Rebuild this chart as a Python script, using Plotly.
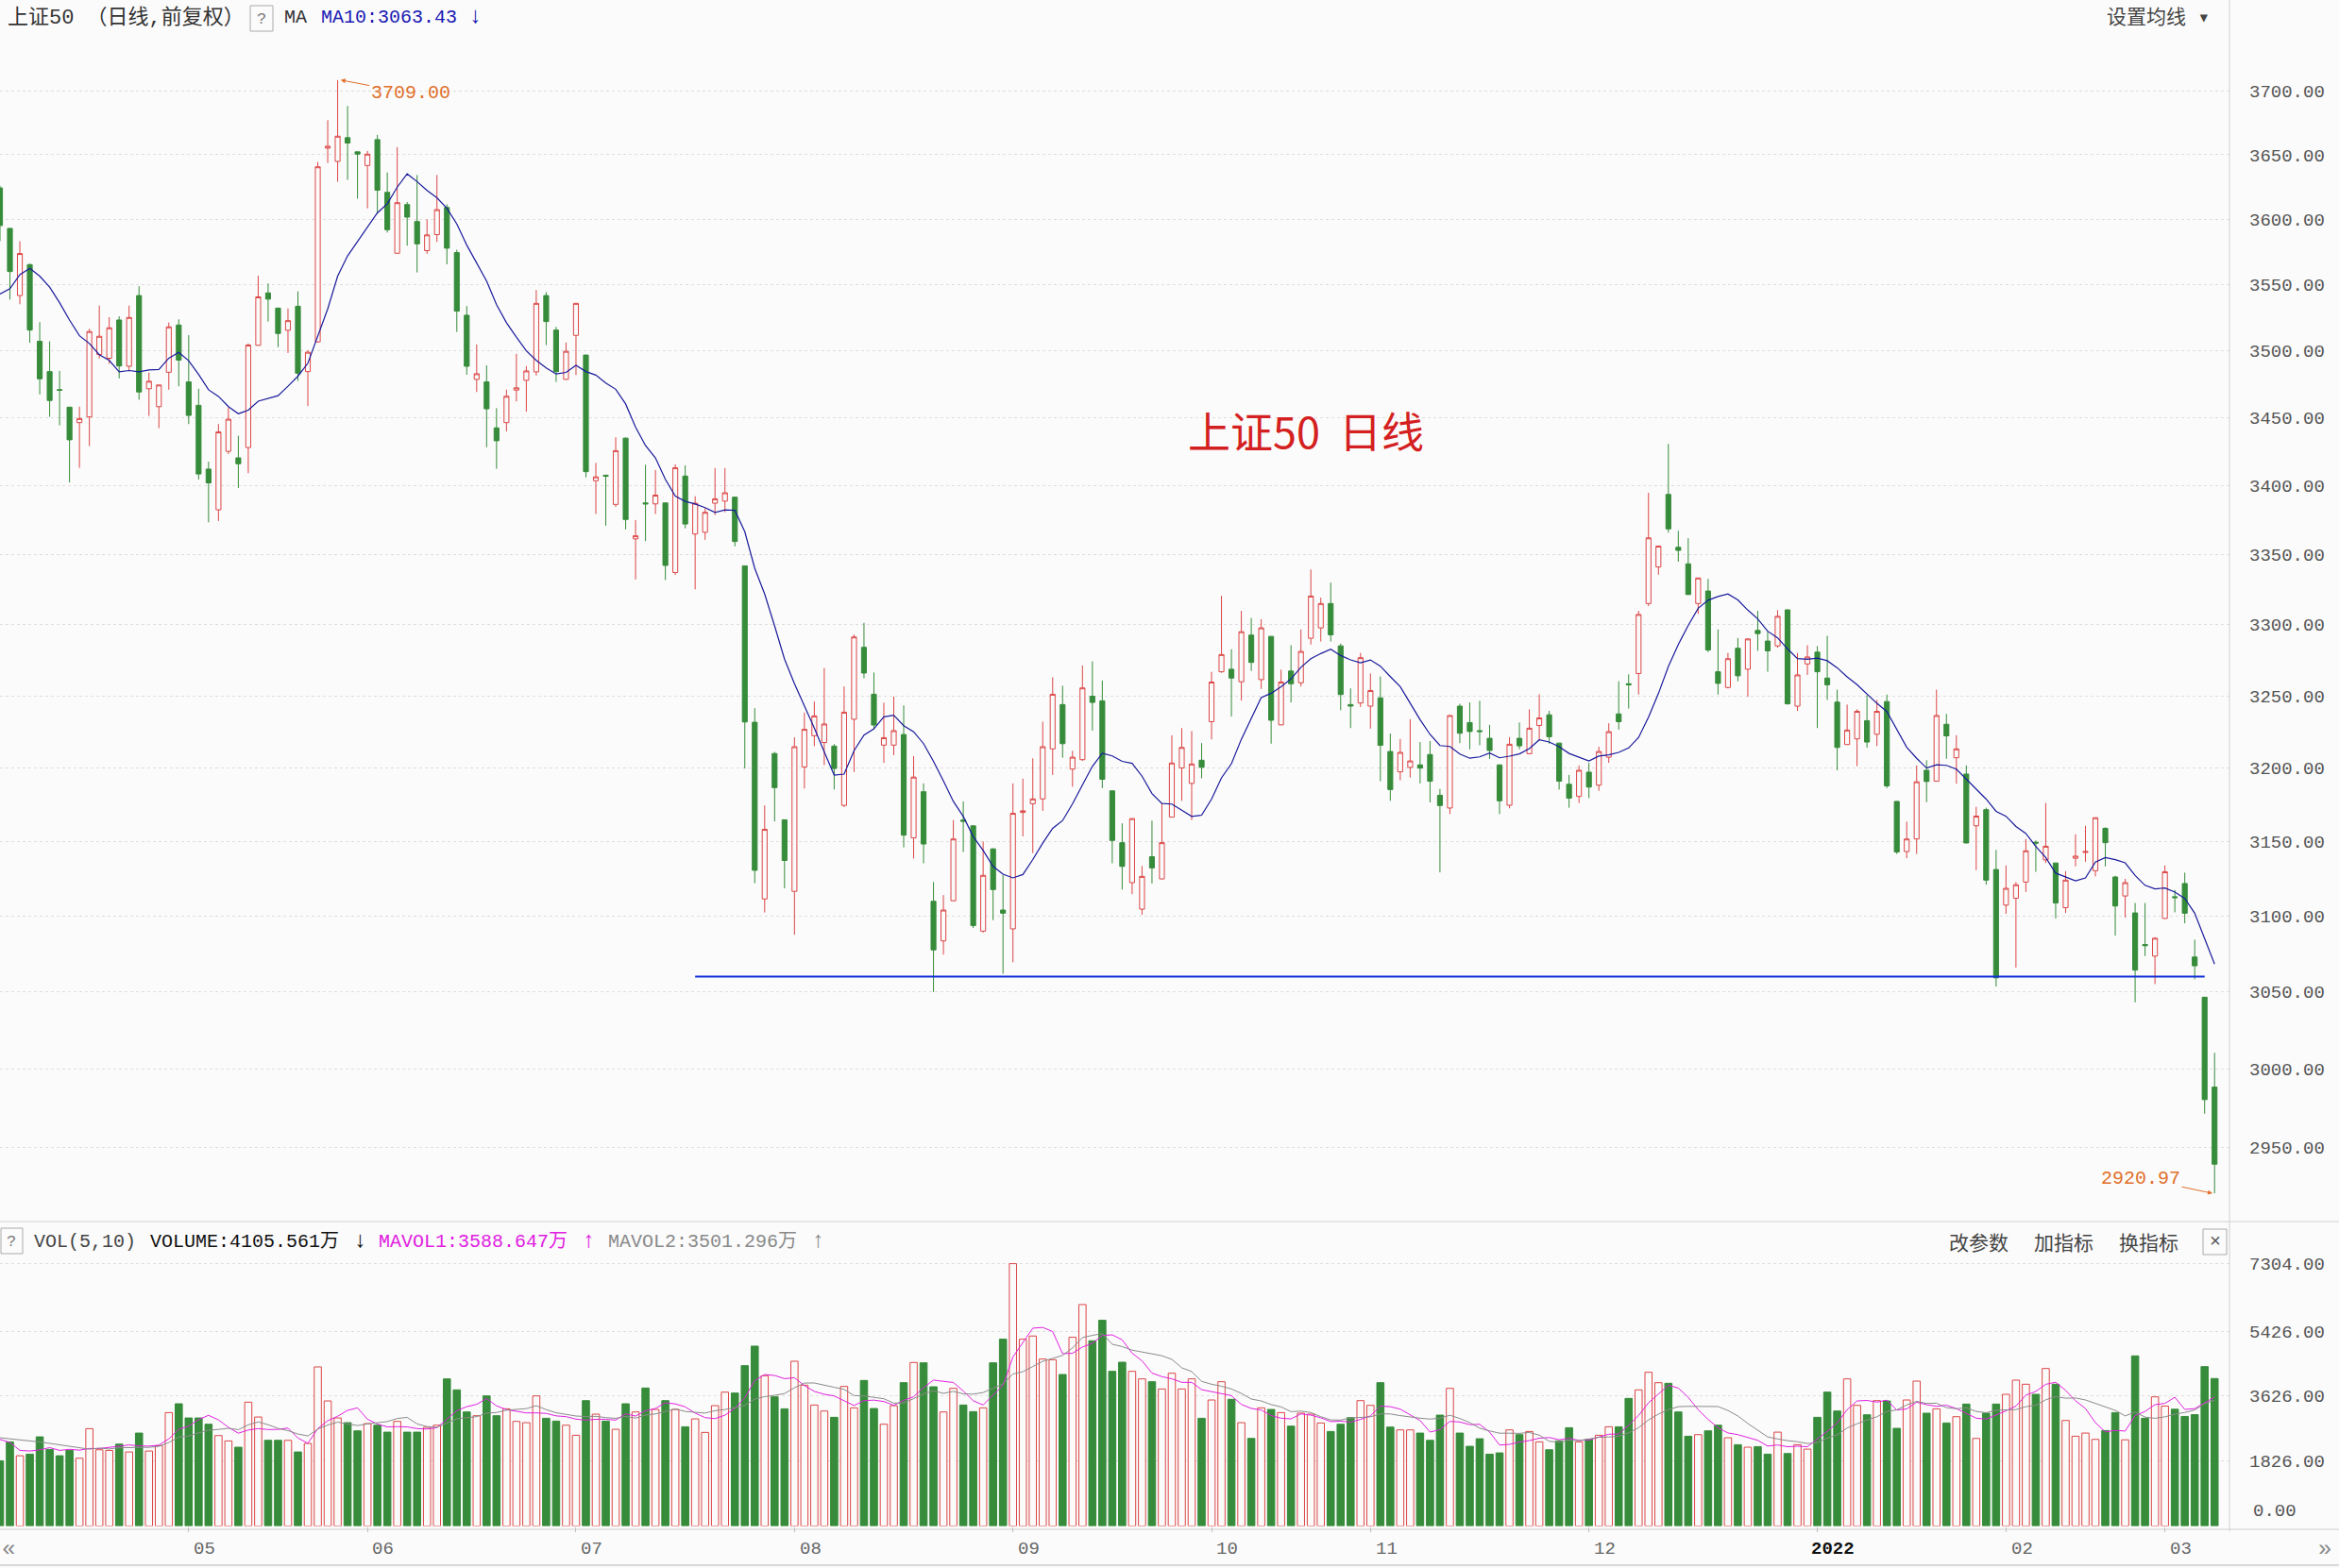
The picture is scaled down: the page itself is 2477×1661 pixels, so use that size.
import math
import pandas as pd
import plotly.graph_objects as go

# ---------------- data ----------------
opens = [
    3624.1, 3592.8, 3541.4, 3565.0, 3506.8, 3484.1, 3470.6, 3457.6, 3446.2, 3450.4,
    3496.9, 3494.1, 3522.9, 3488.1, 3541.4, 3471.3, 3458.0, 3483.6, 3519.1, 3476.4,
    3459.0, 3412.0, 3382.3, 3425.0, 3420.2, 3427.8, 3503.8, 3543.4, 3531.9, 3515.1,
    3533.3, 3484.1, 3506.4, 3655.2, 3644.8, 3663.4, 3652.3, 3641.6, 3661.9, 3620.7,
    3573.7, 3611.2, 3598.1, 3575.7, 3588.0, 3609.0, 3574.2, 3526.5, 3478.3, 3476.4,
    3442.3, 3446.2, 3470.3, 3477.6, 3483.9, 3541.4, 3515.3, 3478.3, 3511.3, 3496.5,
    3403.5, 3407.5, 3386.2, 3434.7, 3361.3, 3387.3, 3386.6, 3387.3, 3337.1, 3406.9,
    3364.8, 3366.0, 3387.1, 3388.6, 3391.5, 3341.9, 3231.6, 3111.4, 3210.0, 3164.7,
    3116.5, 3200.8, 3222.3, 3217.6, 3215.1, 3174.5, 3233.7, 3284.0, 3251.1, 3215.8,
    3215.8, 3223.1, 3152.4, 3183.8, 3109.8, 3083.5, 3110.2, 3164.5, 3160.6, 3090.0,
    3145.0, 3104.0, 3091.5, 3169.7, 3175.6, 3178.9, 3213.2, 3243.9, 3199.3, 3205.8,
    3249.7, 3246.5, 3184.4, 3149.2, 3122.3, 3104.6, 3139.7, 3124.8, 3166.5, 3200.1,
    3189.5, 3205.4, 3232.0, 3266.8, 3268.6, 3259.8, 3292.6, 3261.3, 3291.7, 3229.8,
    3267.3, 3259.1, 3290.4, 3297.7, 3315.0, 3285.0, 3243.9, 3245.0, 3242.8, 3248.6,
    3211.4, 3197.4, 3200.5, 3202.2, 3209.3, 3181.4, 3172.7, 3242.8, 3231.4, 3225.8,
    3220.5, 3202.2, 3174.6, 3220.5, 3209.9, 3229.4, 3236.8, 3217.2, 3188.9, 3180.6,
    3197.2, 3188.3, 3207.5, 3237.4, 3258.4, 3265.6, 3315.0, 3341.1, 3393.5, 3355.2,
    3343.3, 3315.0, 3323.9, 3266.8, 3255.8, 3283.3, 3268.6, 3295.9, 3288.4, 3285.0,
    3310.5, 3242.8, 3272.3, 3280.6, 3262.4, 3245.6, 3216.2, 3220.1, 3232.7, 3223.3,
    3246.0, 3177.2, 3143.2, 3151.7, 3198.5, 3191.0, 3230.2, 3207.1, 3195.9, 3160.6,
    3171.6, 3131.1, 3107.3, 3111.9, 3122.7, 3149.5, 3137.6, 3135.5, 3105.6, 3138.7,
    3142.6, 3130.3, 3158.9, 3126.1, 3113.4, 3102.1, 3081.1, 3073.5, 3098.4, 3112.9,
    3121.7, 3072.9, 3046.5, 2988.3,
]
highs = [
    3625.8, 3593.0, 3582.9, 3565.7, 3521.3, 3506.8, 3484.6, 3457.8, 3458.0, 3516.3,
    3533.8, 3525.0, 3525.7, 3533.8, 3548.5, 3483.4, 3474.3, 3521.0, 3523.4, 3511.5,
    3471.3, 3417.4, 3445.1, 3457.4, 3436.5, 3505.2, 3556.5, 3550.6, 3532.1, 3531.6,
    3544.6, 3500.2, 3644.3, 3677.2, 3709.0, 3688.4, 3652.4, 3653.0, 3665.6, 3636.2,
    3656.0, 3613.2, 3634.2, 3599.8, 3634.2, 3611.4, 3576.4, 3533.5, 3504.5, 3488.8,
    3456.9, 3470.6, 3497.4, 3488.3, 3545.6, 3544.0, 3517.7, 3505.9, 3535.7, 3496.7,
    3416.5, 3407.9, 3435.3, 3435.3, 3374.9, 3415.2, 3411.3, 3387.5, 3415.5, 3414.7,
    3392.2, 3383.4, 3412.7, 3412.7, 3391.7, 3342.0, 3241.4, 3174.5, 3211.1, 3164.9,
    3221.2, 3238.3, 3246.0, 3269.4, 3216.5, 3256.5, 3293.0, 3301.3, 3266.3, 3245.2,
    3249.5, 3243.3, 3208.2, 3189.5, 3122.7, 3114.0, 3164.5, 3177.2, 3160.8, 3150.0,
    3145.4, 3127.5, 3189.5, 3192.7, 3206.7, 3232.0, 3263.0, 3257.0, 3211.9, 3271.2,
    3274.1, 3260.7, 3184.6, 3162.3, 3165.7, 3133.5, 3164.1, 3176.1, 3222.6, 3227.6,
    3225.5, 3217.2, 3266.8, 3320.5, 3282.6, 3309.8, 3304.7, 3303.9, 3291.9, 3268.3,
    3285.5, 3296.6, 3339.3, 3319.2, 3329.9, 3286.6, 3255.2, 3280.0, 3265.6, 3263.5,
    3223.8, 3220.1, 3233.7, 3217.9, 3218.6, 3185.7, 3236.5, 3244.5, 3245.4, 3246.5,
    3229.8, 3202.4, 3221.2, 3231.4, 3240.6, 3251.1, 3239.5, 3217.4, 3195.3, 3201.8,
    3203.7, 3214.7, 3230.9, 3260.2, 3265.0, 3309.8, 3394.7, 3356.3, 3430.5, 3367.1,
    3361.8, 3333.4, 3332.6, 3296.6, 3280.0, 3290.6, 3290.1, 3309.8, 3295.0, 3310.3,
    3310.7, 3280.0, 3285.5, 3284.8, 3292.1, 3254.3, 3243.9, 3240.6, 3250.4, 3247.1,
    3250.9, 3177.4, 3163.4, 3201.8, 3205.4, 3254.3, 3237.4, 3222.6, 3201.8, 3173.5,
    3172.9, 3144.3, 3133.8, 3122.7, 3151.7, 3150.7, 3176.1, 3135.7, 3130.0, 3154.9,
    3160.6, 3166.3, 3159.6, 3126.9, 3124.8, 3108.7, 3108.7, 3086.0, 3133.8, 3117.4,
    3129.0, 3084.3, 3046.7, 3010.4,
]
lows = [
    3582.9, 3538.3, 3534.8, 3505.7, 3467.1, 3450.4, 3444.2, 3402.2, 3412.9, 3428.9,
    3493.9, 3489.9, 3479.0, 3485.3, 3463.1, 3451.1, 3442.1, 3470.6, 3473.1, 3445.1,
    3404.4, 3373.2, 3374.2, 3423.1, 3398.1, 3409.0, 3503.5, 3521.7, 3502.4, 3498.1,
    3477.1, 3458.4, 3505.9, 3643.6, 3628.9, 3630.4, 3615.8, 3608.3, 3604.1, 3589.6,
    3573.5, 3579.5, 3559.0, 3573.3, 3582.4, 3565.2, 3513.9, 3481.8, 3468.9, 3428.0,
    3412.2, 3439.7, 3461.9, 3454.3, 3481.1, 3504.0, 3476.4, 3478.1, 3481.5, 3406.0,
    3379.3, 3370.8, 3384.4, 3368.1, 3332.1, 3359.7, 3379.3, 3331.7, 3335.4, 3368.9,
    3325.1, 3360.6, 3378.5, 3380.5, 3355.9, 3199.7, 3121.9, 3102.4, 3163.6, 3118.5,
    3087.6, 3186.0, 3215.1, 3202.0, 3185.3, 3173.3, 3197.3, 3262.3, 3226.7, 3203.6,
    3208.9, 3146.0, 3138.5, 3135.3, 3049.9, 3074.5, 3110.0, 3142.9, 3092.1, 3089.0,
    3097.3, 3061.9, 3069.4, 3153.5, 3142.2, 3170.8, 3195.3, 3207.1, 3187.2, 3204.9,
    3225.9, 3186.2, 3135.3, 3117.7, 3114.6, 3100.9, 3121.7, 3124.6, 3166.3, 3177.6,
    3164.5, 3193.0, 3219.7, 3266.1, 3235.6, 3246.7, 3267.4, 3254.8, 3216.8, 3229.6,
    3245.4, 3256.5, 3285.9, 3288.1, 3288.1, 3240.0, 3227.6, 3242.2, 3227.2, 3191.0,
    3177.6, 3191.6, 3193.5, 3189.5, 3176.5, 3129.2, 3168.6, 3217.2, 3212.9, 3215.7,
    3206.4, 3168.6, 3172.5, 3212.9, 3209.7, 3219.0, 3216.8, 3185.3, 3172.9, 3176.1,
    3179.4, 3184.4, 3203.6, 3226.5, 3241.1, 3250.9, 3313.2, 3335.5, 3365.8, 3344.9,
    3321.2, 3307.7, 3280.6, 3250.9, 3255.2, 3260.2, 3249.3, 3281.5, 3266.8, 3283.7,
    3243.9, 3239.5, 3264.6, 3227.6, 3247.1, 3198.5, 3216.0, 3201.3, 3214.0, 3215.1,
    3186.3, 3141.6, 3138.7, 3141.6, 3176.7, 3190.8, 3206.4, 3189.3, 3148.8, 3130.7,
    3120.9, 3053.5, 3101.5, 3065.9, 3116.1, 3129.6, 3135.5, 3098.4, 3102.1, 3133.2,
    3136.3, 3126.5, 3133.2, 3087.0, 3099.0, 3043.2, 3073.5, 3055.1, 3098.2, 3102.5,
    3095.2, 3058.2, 2971.3, 2920.97,
]
closes = [
    3595.0, 3559.7, 3573.5, 3515.3, 3478.7, 3462.6, 3470.2, 3433.5, 3449.2, 3514.2,
    3510.6, 3517.0, 3488.3, 3524.8, 3468.9, 3476.9, 3474.1, 3517.7, 3492.7, 3451.5,
    3408.4, 3401.9, 3439.3, 3448.7, 3415.9, 3504.0, 3540.4, 3538.7, 3512.7, 3522.4,
    3482.9, 3498.6, 3640.6, 3656.7, 3664.6, 3659.2, 3650.5, 3650.5, 3622.4, 3591.8,
    3612.7, 3601.5, 3580.9, 3587.8, 3607.3, 3577.6, 3529.6, 3488.1, 3482.5, 3456.4,
    3432.8, 3465.7, 3472.0, 3484.6, 3535.5, 3521.7, 3484.1, 3499.3, 3535.5, 3410.1,
    3406.3, 3406.8, 3425.5, 3375.3, 3363.5, 3386.6, 3393.0, 3342.2, 3413.0, 3372.0,
    3387.1, 3380.5, 3390.3, 3394.7, 3359.4, 3231.8, 3130.6, 3158.2, 3186.6, 3137.2,
    3214.7, 3226.7, 3236.0, 3230.4, 3199.7, 3238.6, 3291.3, 3265.9, 3229.7, 3220.9,
    3225.8, 3154.3, 3193.8, 3148.3, 3077.6, 3104.0, 3151.7, 3163.6, 3093.7, 3127.2,
    3117.7, 3101.9, 3169.1, 3170.8, 3178.9, 3214.7, 3251.1, 3216.8, 3207.5, 3255.5,
    3245.4, 3192.3, 3150.7, 3133.2, 3165.5, 3126.5, 3132.2, 3149.2, 3203.5, 3214.2,
    3202.8, 3200.5, 3259.6, 3278.9, 3262.4, 3295.0, 3273.4, 3297.7, 3233.0, 3259.6,
    3258.4, 3281.1, 3320.3, 3315.0, 3292.8, 3250.9, 3242.8, 3276.7, 3253.7, 3215.7,
    3185.3, 3210.8, 3204.9, 3200.0, 3191.0, 3174.4, 3236.3, 3224.0, 3225.2, 3225.2,
    3212.1, 3177.6, 3216.4, 3215.3, 3227.5, 3234.6, 3221.6, 3191.0, 3179.4, 3198.5,
    3187.0, 3211.4, 3225.1, 3232.0, 3257.7, 3307.2, 3362.0, 3356.1, 3368.5, 3353.0,
    3321.4, 3333.2, 3282.1, 3258.7, 3276.0, 3264.0, 3289.9, 3293.7, 3281.5, 3305.9,
    3244.4, 3264.6, 3277.2, 3266.8, 3257.7, 3214.2, 3226.2, 3239.2, 3217.9, 3239.2,
    3187.8, 3142.9, 3151.7, 3190.6, 3190.8, 3236.3, 3222.2, 3213.2, 3149.0, 3167.2,
    3124.0, 3059.2, 3118.5, 3120.9, 3143.7, 3148.9, 3146.8, 3108.7, 3124.0, 3140.1,
    3143.2, 3166.1, 3149.2, 3106.7, 3122.3, 3064.3, 3080.4, 3085.3, 3129.6, 3112.3,
    3101.9, 3067.1, 2980.3, 2939.3,
]
volumes = [  # 万
    1815, 2342, 1956, 2000, 2482, 2131, 1956, 2105, 1886, 2710,
    2122, 2105, 2280, 2061, 2587, 2087, 2236, 3157, 3403, 3008,
    3008, 2833, 2517, 2368, 2193, 3447, 3034, 2385, 2385, 2385,
    2061, 2298, 4429, 3482, 3008, 2877, 2649, 2850, 2806, 2613,
    2912, 2613, 2613, 2745, 2806, 4096, 3789, 3175, 3070, 3622,
    3070, 3262, 2912, 2877, 3622, 2999, 2920, 2806, 2526, 3490,
    3113, 2920, 2692, 3403, 3175, 3841, 3245, 3490, 3245, 2762,
    2982, 2605, 3350, 3727, 3701, 4464, 5008, 4183, 3596, 3262,
    4587, 3920, 3368, 3201, 3026, 3885, 3289, 4052, 3271, 2833,
    3350, 3990, 4552, 4543, 3876, 3175, 3832, 3368, 3184, 3289,
    4543, 5201, 7304, 5201, 5289, 4648, 4630, 4218, 5254, 6165,
    5157, 5727, 4306, 4560, 4306, 4096, 4017, 3815, 4253, 3815,
    4096, 2999, 3508, 4017, 3526, 2877, 2438, 3289, 3245, 3157,
    2780, 3140, 3113, 2868, 2631, 2833, 3017, 3490, 3359, 3990,
    2754, 2675, 2675, 2587, 2385, 3087, 3832, 2587, 2219, 2429,
    2000, 2035, 2675, 2543, 2631, 2342, 2122, 2368, 2736, 2342,
    2412, 2526, 2762, 2762, 3552, 3789, 4280, 3990, 3973, 3175,
    2499, 2543, 2649, 2806, 2456, 2263, 2193, 2210, 2000, 2613,
    2017, 2263, 2140, 3026, 3727, 3201, 4096, 3359, 3096, 3490,
    3482, 2719, 3508, 4034, 3140, 3262, 2868, 3043, 3394, 2438,
    3140, 3394, 3666, 4061, 3947, 3666, 4385, 3947, 2938, 2499,
    2587, 2412, 2657, 3157, 2400, 4736, 3000, 3596, 3338, 3250,
    3050, 3100, 4437, 4105.561,
]
# moving-average values before a full window exists
ma10_head = [3542.6, 3546.6, 3557.3, 3562.1, 3556.2, 3547.8, 3536.0, 3522.9, 3511.0]
mavol1_head = [2412, 2324, 2105, 2087]
mavol2_head = [2456, 2430, 2400, 2370, 2340, 2300, 2260, 2220, 2180]

month_tick_idx = [19, 37, 58, 80, 102, 122, 138, 160, 183, 202, 218]
month_labels = ["05", "06", "07", "08", "09", "10", "11", "12", "2022", "02", "03"]
price_ticks = [2950, 3000, 3050, 3100, 3150, 3200, 3250, 3300, 3350, 3400,
               3450, 3500, 3550, 3600, 3650, 3700]
vol_ticks = [1826, 3626, 5426, 7304]
support_level = 3060
support_start_idx = 70
support_end_idx = 222
ma10_last = 3063.43
mavol1_last = 3588.647
mavol2_last = 3501.296

# ---------------- styling ----------------
W, H = 2477, 1661
BG = "#fbfbfb"
RED = "#dc4646"
GREEN = "#368c3a"
NAVY = "#1a1a9c"
ORANGE = "#e0702a"
MAGENTA = "#e020e0"
GREY = "#8a8a8a"
TXT = "#444444"
MONO = "Liberation Mono, Noto Sans CJK SC, monospace"
CJK = "Noto Sans CJK SC, sans-serif"


def px(x):
    return x / W


def py(y):
    return 1 - y / H


n = len(closes)
idx = list(range(n))
ma10 = pd.Series(closes).rolling(10).mean().tolist()
ma10[:len(ma10_head)] = ma10_head
mavol1 = pd.Series(volumes).rolling(5).mean().tolist()
mavol1[:len(mavol1_head)] = mavol1_head
mavol2 = pd.Series(volumes).rolling(10).mean().tolist()
mavol2[:len(mavol2_head)] = mavol2_head
up = [c >= o for o, c in zip(opens, closes)]

fig = go.Figure()

fig.add_trace(go.Candlestick(
    x=idx, open=opens, high=highs, low=lows, close=closes,
    increasing=dict(line=dict(color=RED, width=1), fillcolor=BG),
    decreasing=dict(line=dict(color=GREEN, width=1), fillcolor=GREEN),
    whiskerwidth=0, xaxis="x", yaxis="y", hoverinfo="skip",
))
fig.add_trace(go.Scatter(x=idx, y=ma10, mode="lines",
                         line=dict(color=NAVY, width=1.2), xaxis="x", yaxis="y",
                         hoverinfo="skip"))
fig.add_trace(go.Scatter(x=[support_start_idx, support_end_idx],
                         y=[support_level, support_level], mode="lines",
                         line=dict(color="#1030d8", width=2.2), xaxis="x", yaxis="y",
                         hoverinfo="skip"))

fig.add_trace(go.Bar(
    x=idx, y=volumes, width=0.72,
    marker=dict(color=[BG if u else GREEN for u in up],
                line=dict(color=[RED if u else GREEN for u in up], width=1)),
    xaxis="x2", yaxis="y2", hoverinfo="skip",
))
fig.add_trace(go.Scatter(x=idx, y=mavol1, mode="lines",
                         line=dict(color=MAGENTA, width=1), xaxis="x2", yaxis="y2",
                         hoverinfo="skip"))
fig.add_trace(go.Scatter(x=idx, y=mavol2, mode="lines",
                         line=dict(color=GREY, width=1), xaxis="x2", yaxis="y2",
                         hoverinfo="skip"))

# price axis mapping: top of pane at 28px, bottom at 1290px
p_top = 3751.9
p_bot = 2905.7
xr = [0, 224.5]

fig.update_layout(
    width=W, height=H, margin=dict(l=0, r=0, t=0, b=0),
    paper_bgcolor=BG, plot_bgcolor=BG, showlegend=False,
    hovermode=False, boxgap=0.3, bargap=0.3,
    xaxis=dict(domain=[0, px(2361)], range=xr, anchor="y", showticklabels=False,
               showgrid=False, zeroline=False, showline=False,
               rangeslider=dict(visible=False)),
    yaxis=dict(domain=[py(1290), py(28)], type="log",
               range=[math.log10(p_bot), math.log10(p_top)],
               side="right", anchor="x", tickvals=price_ticks,
               ticktext=[f"{v:.2f}" for v in price_ticks],
               tickfont=dict(family=MONO, size=19, color="#555555"),
               showgrid=True, gridcolor="#dedede", griddash="dot", gridwidth=1,
               zeroline=False, showline=False, ticks="", ticklabelstandoff=20),
    xaxis2=dict(domain=[0, px(2361)], range=xr, anchor="y2", matches="x",
                showticklabels=False, showgrid=False, zeroline=False,
                showline=False, ticks="outside", ticklen=5, tickcolor="#bbbbbb",
                tickvals=month_tick_idx),
    yaxis2=dict(domain=[py(1616.5), py(1300)], range=[0, 8318.5], side="right",
                anchor="x2", tickvals=vol_ticks,
                ticktext=[f"{v:.2f}" for v in vol_ticks],
                tickfont=dict(family=MONO, size=19, color="#555555"),
                showgrid=True, gridcolor="#dedede", griddash="dot",
                zeroline=False, showline=False, ticks="", ticklabelstandoff=20),
)

shapes = [
    dict(type="line", xref="paper", yref="paper", x0=px(2361), x1=px(2361),
         y0=py(0), y1=py(1622), line=dict(color="#d0d0d0", width=1)),
    dict(type="line", xref="paper", yref="paper", x0=0, x1=1,
         y0=py(1294), y1=py(1294), line=dict(color="#d0d0d0", width=1)),
    dict(type="line", xref="paper", yref="paper", x0=0, x1=1,
         y0=py(1620), y1=py(1620), line=dict(color="#d0d0d0", width=1)),
    dict(type="line", xref="paper", yref="paper", x0=0, x1=1,
         y0=py(1658), y1=py(1658), line=dict(color="#d8d8d8", width=2)),
    # "?" boxes and close box
    dict(type="rect", xref="paper", yref="paper", x0=px(265), x1=px(289),
         y0=py(33), y1=py(6), line=dict(color="#aaaaaa", width=1), fillcolor=BG),
    dict(type="rect", xref="paper", yref="paper", x0=px(1), x1=px(24),
         y0=py(1328), y1=py(1301), line=dict(color="#aaaaaa", width=1), fillcolor=BG),
    dict(type="rect", xref="paper", yref="paper", x0=px(2333), x1=px(2358),
         y0=py(1329), y1=py(1302), line=dict(color="#aaaaaa", width=1), fillcolor=BG),
]

ann = []


def label(x, y, text, color=TXT, size=20, family=MONO, anchor="left"):
    ann.append(dict(xref="paper", yref="paper", x=px(x), y=py(y), text=text,
                    showarrow=False, xanchor=anchor, yanchor="middle",
                    font=dict(family=family, size=size, color=color)))


# price pane header
label(6, 19, "上证50 （日线,前复权）", color="#333333", size=22)
label(277, 20, "?", color="#777777", size=17, anchor="center")
label(299, 19, "MA", color="#333333")
label(338, 19, f"MA10:{ma10_last:.2f}", color="#1a1ab4")
label(494, 18, "↓", color="#1a1ab4", size=24)
label(2342, 19, "设置均线 ▾", color="#444444", anchor="right", size=21)

# volume pane header
label(12, 1315, "?", color="#777777", size=17, anchor="center")
label(34, 1315, "VOL(5,10)", color="#444444")
label(157, 1315, f"VOLUME:{volumes[-1]:.3f}万", color="#111111")
label(372, 1314, "↓", color="#111111", size=24)
label(399, 1315, f"MAVOL1:{mavol1_last:.3f}万", color=MAGENTA)
label(614, 1314, "↑", color=MAGENTA, size=24)
label(642, 1315, f"MAVOL2:{mavol2_last:.3f}万", color=GREY)
label(857, 1314, "↑", color=GREY, size=24)
label(2062, 1315, "改参数", color="#444444", family=CJK, size=21)
label(2152, 1315, "加指标", color="#444444", family=CJK, size=21)
label(2242, 1315, "换指标", color="#444444", family=CJK, size=21)
label(2345.5, 1315, "×", color="#555555", size=20, anchor="center")
label(2384, 1601, "0.00", color="#555555", size=19)

# month labels
for ti, tl in zip(month_tick_idx, month_labels):
    ann.append(dict(xref="x2", yref="paper", x=ti + 1.6, y=py(1641),
                    text=("<b>" + tl + "</b>") if tl == "2022" else tl,
                    showarrow=False, xanchor="center", yanchor="middle",
                    font=dict(family=MONO, size=19,
                              color="#111111" if tl == "2022" else "#666666")))
label(9, 1641, "«", color="#888888", size=24, anchor="center")
label(2462, 1641, "»", color="#888888", size=24, anchor="center")

# big title
ann.append(dict(xref="paper", yref="paper", x=px(1383), y=py(456),
                text="上证50  日线", showarrow=False, xanchor="center",
                yanchor="middle", font=dict(family=CJK, size=45, color="#d42020")))

# extreme value markers
hi_i = highs.index(max(highs))
lo_i = lows.index(min(lows))
ann.append(dict(xref="x", yref="y", x=hi_i + 0.3, y=math.log10(highs[hi_i]),
                text=f"{highs[hi_i]:.2f}", showarrow=True, arrowhead=2,
                arrowsize=1, arrowwidth=1, arrowcolor=ORANGE, ax=74, ay=14,
                font=dict(family=MONO, size=20, color=ORANGE)))
ann.append(dict(xref="x", yref="y", x=lo_i - 0.2, y=math.log10(lows[lo_i]),
                text=f"{lows[lo_i]:.2f}", showarrow=True, arrowhead=2,
                arrowsize=1, arrowwidth=1, arrowcolor=ORANGE, ax=-76, ay=-16,
                font=dict(family=MONO, size=20, color=ORANGE)))

fig.update_layout(shapes=shapes, annotations=ann)
fig.write_html("out.html", config={"displayModeBar": False})
